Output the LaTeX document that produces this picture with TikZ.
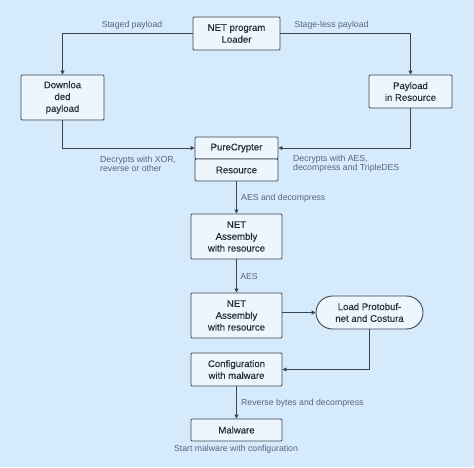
\documentclass[tikz,border=0pt]{standalone}
\usepackage{fontspec}
\setmainfont{Liberation Sans}
\newfontfamily\boxfont[FakeBold=0.35]{Liberation Sans}
\usetikzlibrary{arrows.meta,shapes.misc}
\definecolor{bg}{HTML}{D5EBFB}
\definecolor{boxfill}{HTML}{EEF6FD}
\definecolor{boxline}{HTML}{3A4552}
\definecolor{boxtext}{HTML}{262E38}
\definecolor{lbltext}{HTML}{56657A}
\tikzset{
  box/.style={draw=boxline, fill=boxfill, line width=0.9pt, rounded corners=1pt,
    text=boxtext, font=\boxfont\fontsize{9.6}{11.8}\selectfont, align=center, inner sep=0pt},
  stadium/.style={draw=boxline, fill=boxfill, line width=0.9pt, rounded rectangle,
    text=boxtext, font=\boxfont\fontsize{9.6}{11.8}\selectfont, align=center, inner sep=0pt},
  lbl/.style={text=lbltext, font=\fontsize{8.7}{9}\selectfont, inner sep=0pt},
  conn/.style={draw=boxline, line width=0.9pt, -{Triangle[length=4pt,width=4pt]}},
}
\begin{document}
\begin{tikzpicture}[x=1pt,y=-1pt]
\fill[bg] (0,0) rectangle (474,467);
\useasboundingbox (0,0) rectangle (474,467);

\node[box, minimum width=87pt, minimum height=33pt] (loader) at (236.5,33.5) {NET program\\Loader};
\node[box, minimum width=83pt, minimum height=45pt] (dl) at (62.5,97.5) {Downloa\\ded\\payload};
\node[box, minimum width=83pt, minimum height=33pt] (pr) at (410.5,91.5) {Payload\\in Resource};
\node[box, minimum width=83pt, minimum height=22pt] (pc) at (236.5,148) {PureCrypter};
\node[box, minimum width=83pt, minimum height=22pt] (res) at (236.5,170) {Resource};
\node[box, minimum width=91pt, minimum height=45pt] (net1) at (236.5,236.5) {NET\\Assembly\\with resource};
\node[box, minimum width=91pt, minimum height=45pt] (net2) at (236.5,315.5) {NET\\Assembly\\with resource};
\node[stadium, minimum width=107pt, minimum height=33pt] (proto) at (369.5,312.5) {Load Protobuf-\\net and Costura};
\node[box, minimum width=91pt, minimum height=33pt] (cfg) at (236.5,369.5) {Configuration\\with malware};
\node[box, minimum width=91pt, minimum height=22pt] (mal) at (236.5,430) {Malware};

\draw[conn] (loader.west) -| (dl.north);
\draw[conn] (loader.east) -| (pr.north);
\draw[conn] (dl.south) |- (pc.west);
\draw[conn] (pr.south) |- (pc.east);
\draw[conn] (res.south) -- (net1.north);
\draw[conn] (net1.south) -- (net2.north);
\draw[conn] (net2.east |- proto.west) -- (proto.west);
\draw[conn] (proto.south) |- (cfg.east);
\draw[conn] (cfg.south) -- (mal.north);

\node[lbl] (l1) at (132,25) {Staged payload};
\node[lbl] (l2) at (331.5,25) {Stage-less payload};
\node[lbl, anchor=west, align=left] (l3) at (100,164) {Decrypts with XOR,\\reverse or other};
\node[lbl, anchor=west, align=left] (l4) at (293,164) {Decrypts with AES,\\decompress and TripleDES};
\node[lbl, anchor=west] (l5) at (241,198) {AES and decompress};
\node[lbl] (l6) at (249,276) {AES};
\node[lbl, anchor=west] (l7) at (241,403) {Reverse bytes and decompress};
\node[lbl] (l8) at (236,449) {Start malware with configuration};
\end{tikzpicture}
\end{document}
